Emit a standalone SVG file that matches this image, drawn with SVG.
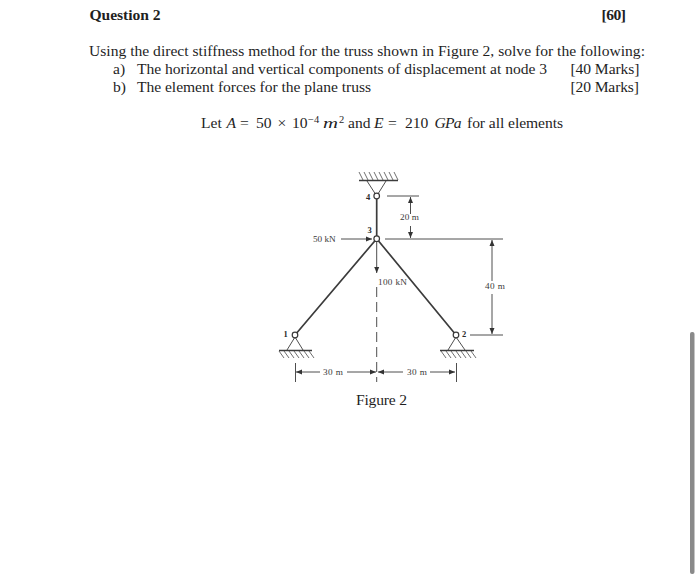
<svg xmlns="http://www.w3.org/2000/svg" width="700" height="574" viewBox="0 0 700 574">
<style>
text{font-family:"Liberation Serif","Times New Roman",serif;fill:#1f1f1f}
.t{font-size:15.6px}
.u{font-size:10.5px}
.s{font-size:9.2px;fill:#3a3a3a}
.n{font-size:8.5px;font-weight:bold;fill:#2a2a2a}
.i{font-style:italic}
.m{stroke:#3c3c3c;stroke-width:1.7;fill:none}
.d{stroke:#3a3a3a;stroke-width:.9;fill:none}
.h{stroke:#4a4a4a;stroke-width:.8;fill:none}
.c{fill:#fff;stroke:#3a3a3a;stroke-width:1.2}
</style>
<defs>
<marker id="a" markerWidth="7" markerHeight="6" refX="6" refY="3" orient="auto-start-reverse" markerUnits="userSpaceOnUse"><path d="M0 0.5L6 3L0 5.500z" fill="#333"/></marker>
<path id="hatch" class="h" d="M-16 1l5 7M-11 1l5 7M-6 1l5 7M-1 1l5 7M4 1l5 7M9 1l5 7M14 1l5 7"/>
</defs>
<rect width="700" height="574" fill="#fff"/>
<text x="89.500" y="20" font-size="15.6" font-weight="bold" textLength="71">Question 2</text>
<text x="601.500" y="20" font-size="15.6" font-weight="bold" textLength="24.500">[60]</text>
<text class="t" x="89" y="56" textLength="556">Using the direct stiffness method for the truss shown in Figure 2, solve for the following:</text>
<text class="t" x="113" y="73.500">a)</text>
<text class="t" x="137" y="73.500" textLength="410">The horizontal and vertical components of displacement at node 3</text>
<text class="t" x="570.500" y="73.500" textLength="69">[40 Marks]</text>
<text class="t" x="113" y="91.500">b)</text>
<text class="t" x="137" y="91.500" textLength="234">The element forces for the plane truss</text>
<text class="t" x="570.500" y="91.500" textLength="68.500">[20 Marks]</text>
<g id="equation">
<text class="t" x="201" y="128">Let</text>
<text class="t i" x="226.500" y="128">A</text>
<text class="t" x="240" y="128">=</text>
<text class="t" x="256" y="128">50</text>
<text class="t" x="277.500" y="128">×</text>
<text class="t" x="292" y="128">10</text>
<text class="u" x="308" y="123">−4</text>
<text class="t i" x="323" y="128" textLength="15" lengthAdjust="spacingAndGlyphs">m</text>
<text class="u" x="339" y="123">2</text>
<text class="t" x="348" y="128">and</text>
<text class="t i" x="374" y="128">E</text>
<text class="t" x="388" y="128">=</text>
<text class="t" x="405" y="128">210</text>
<text class="t i" x="434.500" y="128" textLength="27">GPa</text>
<text class="t" x="467" y="128" textLength="96">for all elements</text>
</g>
<g id="connectors">
<path class="m" d="M376.700 196V238.700M376.700 238.700L295 335M376.700 238.700L456 335"/>
<path class="d" d="M376.700 238.700V273" marker-end="url(#a)"/>
<path class="d" d="M341 239H372" marker-end="url(#a)"/>
<path class="d" d="M387 196H419M385 239H503M470 335H503"/>
<path class="d" d="M410.500 214V197" marker-end="url(#a)"/>
<path class="d" d="M410.500 226V238" marker-end="url(#a)"/>
<path class="d" d="M492 281V240" marker-end="url(#a)"/>
<path class="d" d="M492 294V334" marker-end="url(#a)"/>
<path class="d" d="M376.700 287V382" stroke-dasharray="10 5"/>
<path class="d" d="M295.500 363V382M456.500 363V382"/>
<path class="d" d="M320 372H296" marker-end="url(#a)"/>
<path class="d" d="M347 372H376" marker-end="url(#a)"/>
<path class="d" d="M403 372H378" marker-end="url(#a)"/>
<path class="d" d="M430 372H455" marker-end="url(#a)"/>
</g>
<g id="node4">
<path class="d" d="M367 181L376.700 196L386 181"/>
<path class="m" d="M359 180.500H398"/>
<path class="h" d="M359 172L363 180M364 172L368 180M369 172L373 180M374 172L378 180M379 172L383 180M384 172L388 180M389 172L393 180M394 172L398 180"/>
<circle class="c" cx="376.700" cy="196" r="2.800"/>
<text class="n" x="366" y="199.500">4</text>
</g>
<g id="node3">
<circle class="c" cx="376.700" cy="238.700" r="2.800"/>
<text class="n" x="367.500" y="232.500">3</text>
</g>
<g id="node1">
<path class="d" d="M295 337L287 350M295 337L303 350"/>
<path class="m" d="M279 350.500H312"/>
<use href="#hatch" x="295" y="350"/>
<circle class="c" cx="295" cy="335" r="2.800"/>
<text class="n" x="283.500" y="337">1</text>
</g>
<g id="node2">
<path class="d" d="M456 337L448 350M456 337L465 350"/>
<path class="m" d="M440 350.500H474"/>
<use href="#hatch" x="457" y="350"/>
<circle class="c" cx="456" cy="335" r="2.800"/>
<text class="n" x="462" y="337">2</text>
</g>
<g id="labels">
<text class="s" x="313" y="242">50 kN</text>
<text class="s" x="378" y="285" textLength="29">100 kN</text>
<text class="s" x="400" y="220" textLength="19">20 m</text>
<text class="s" x="485" y="289" textLength="20">40 m</text>
<text class="s" x="323" y="375" textLength="20">30 m</text>
<text class="s" x="407" y="375" textLength="20">30 m</text>
<text x="356" y="404.500" font-size="15.6" textLength="51">Figure 2</text>
</g>
<rect x="690" y="332" width="4.500" height="242" rx="2" fill="#8a8a8a"/>
</svg>
